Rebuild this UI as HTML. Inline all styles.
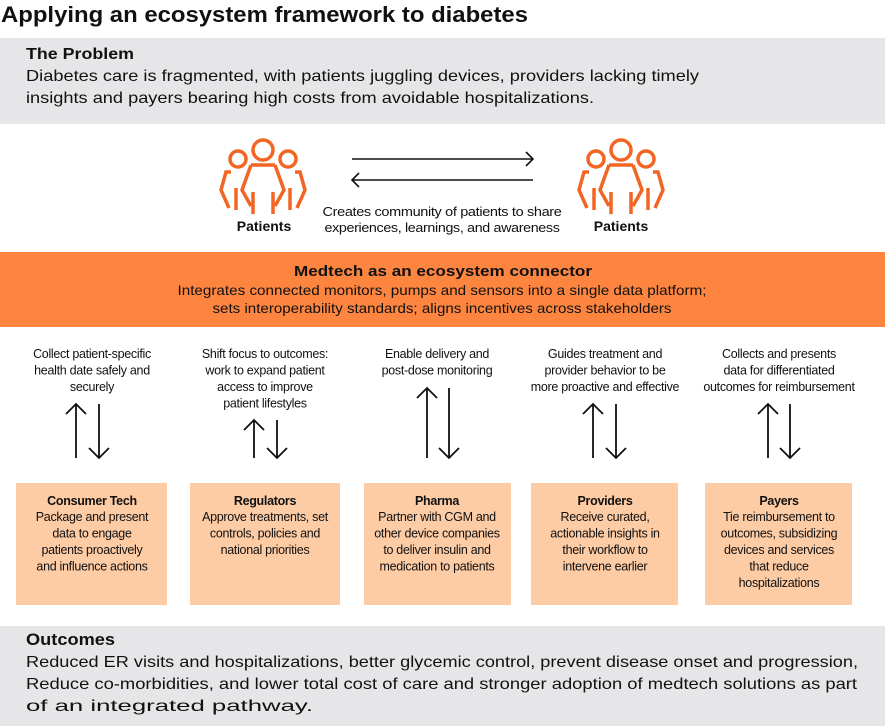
<!DOCTYPE html>
<html><head><meta charset="utf-8"><style>
html,body{margin:0;padding:0;background:#fff}
svg{display:block}
text{font-family:"Liberation Sans",Arial,sans-serif;fill:#111}
.s{font-size:12.5px;letter-spacing:-0.3px}
.b{font-weight:bold}
</style></head><body>
<svg width="885" height="726" viewBox="0 0 885 726" xmlns="http://www.w3.org/2000/svg">
<defs>
<g id="ppl" fill="none" stroke="#f26522" stroke-width="3.5" stroke-linejoin="miter">
<circle cx="0" cy="-52" r="10"/>
<circle cx="-25" cy="-43" r="8"/>
<circle cx="25" cy="-43" r="8"/>
<path d="M-12,-37 L-21,-12 L-12,4 M-10,-10 L-10,12 M12,-37 L21,-12 L12,4 M10,-10 L10,12 M-12,-37 L12,-37"/>
<path d="M-32,-30 L-37,-30 L-42,-12 L-34,6 M-27,-14 L-27,8"/>
<path d="M32,-30 L37,-30 L42,-12 L34,6 M27,-14 L27,8"/>
</g>
</defs>
<text x="1" y="22" font-size="22" textLength="527" lengthAdjust="spacingAndGlyphs" style="font-weight:bold;letter-spacing:0">Applying an ecosystem framework to diabetes</text>
<rect x="0" y="38" width="885" height="86" fill="#e6e6e8"/>
<text x="26" y="59" font-size="16" class="b" textLength="108" lengthAdjust="spacingAndGlyphs">The Problem</text>
<text x="26" y="81" font-size="16" textLength="673" lengthAdjust="spacingAndGlyphs">Diabetes care is fragmented, with patients juggling devices, providers lacking timely</text>
<text x="26" y="103" font-size="16" textLength="568" lengthAdjust="spacingAndGlyphs">insights and payers bearing high costs from avoidable hospitalizations.</text>

<use href="#ppl" x="263" y="202"/>
<use href="#ppl" x="621" y="202"/>
<text x="264" y="231" font-size="14" class="b" text-anchor="middle">Patients</text>
<text x="621" y="231" font-size="14" class="b" text-anchor="middle">Patients</text>
<g stroke="#111" stroke-width="1.6" fill="none">
<path d="M352,159 L533,159 M526,152 L533,159 L526,166"/>
<path d="M352,180 L533,180 M359,173 L352,180 L359,187"/>
</g>
<text x="442" y="216" class="s" text-anchor="middle" textLength="239" lengthAdjust="spacingAndGlyphs">Creates community of patients to share</text>
<text x="442" y="232" class="s" text-anchor="middle" textLength="235" lengthAdjust="spacingAndGlyphs">experiences, learnings, and awareness</text>

<rect x="0" y="252" width="885" height="75" fill="#fd8540"/>
<text x="443" y="276" font-size="15" class="b" text-anchor="middle" textLength="298" lengthAdjust="spacingAndGlyphs">Medtech as an ecosystem connector</text>
<text x="442" y="295" font-size="14" text-anchor="middle" textLength="529" lengthAdjust="spacingAndGlyphs">Integrates connected monitors, pumps and sensors into a single data platform;</text>
<text x="442" y="313" font-size="14" text-anchor="middle" textLength="459" lengthAdjust="spacingAndGlyphs">sets interoperability standards; aligns incentives across stakeholders</text>

<g text-anchor="middle">
<text x="92" y="358" class="s">Collect patient-specific</text>
<text x="92" y="374.5" class="s">health date safely and</text>
<text x="92" y="391" class="s">securely</text>
<text x="265" y="358" class="s">Shift focus to outcomes:</text>
<text x="265" y="374.5" class="s">work to expand patient</text>
<text x="265" y="391" class="s">access to improve</text>
<text x="265" y="407.5" class="s">patient lifestyles</text>
<text x="437" y="358" class="s">Enable delivery and</text>
<text x="437" y="374.5" class="s">post-dose monitoring</text>
<text x="605" y="358" class="s">Guides treatment and</text>
<text x="605" y="374.5" class="s">provider behavior to be</text>
<text x="605" y="391" class="s">more proactive and effective</text>
<text x="779" y="358" class="s">Collects and presents</text>
<text x="779" y="374.5" class="s">data for differentiated</text>
<text x="779" y="391" class="s">outcomes for reimbursement</text>
</g>

<g stroke="#111" stroke-width="1.8" fill="none">
<path d="M76,458 L76,404 M66,414 L76,404 L86,414 M99,404 L99,458 M89,448 L99,458 L109,448"/>
<path d="M254,458 L254,420 M244,430 L254,420 L264,430 M277,420 L277,458 M267,448 L277,458 L287,448"/>
<path d="M427,458 L427,388 M417,398 L427,388 L437,398 M449,388 L449,458 M439,448 L449,458 L459,448"/>
<path d="M593,458 L593,404 M583,414 L593,404 L603,414 M616,404 L616,458 M606,448 L616,458 L626,448"/>
<path d="M768,458 L768,404 M758,414 L768,404 L778,414 M790,404 L790,458 M780,448 L790,458 L800,448"/>
</g>

<g fill="#fdcba4">
<rect x="16" y="483" width="151" height="122"/>
<rect x="190" y="483" width="150" height="122"/>
<rect x="364" y="483" width="147" height="122"/>
<rect x="531" y="483" width="147" height="122"/>
<rect x="705" y="483" width="147" height="122"/>
</g>
<g text-anchor="middle">
<text x="92" y="505" class="s b">Consumer Tech</text>
<text x="92" y="521" class="s">Package and present</text>
<text x="92" y="537.5" class="s">data to engage</text>
<text x="92" y="554" class="s">patients proactively</text>
<text x="92" y="570.5" class="s">and influence actions</text>
<text x="265" y="505" class="s b">Regulators</text>
<text x="265" y="521" class="s">Approve treatments, set</text>
<text x="265" y="537.5" class="s">controls, policies and</text>
<text x="265" y="554" class="s">national priorities</text>
<text x="437" y="505" class="s b">Pharma</text>
<text x="437" y="521" class="s">Partner with CGM and</text>
<text x="437" y="537.5" class="s">other device companies</text>
<text x="437" y="554" class="s">to deliver insulin and</text>
<text x="437" y="570.5" class="s">medication to patients</text>
<text x="605" y="505" class="s b">Providers</text>
<text x="605" y="521" class="s">Receive curated,</text>
<text x="605" y="537.5" class="s">actionable insights in</text>
<text x="605" y="554" class="s">their workflow to</text>
<text x="605" y="570.5" class="s">intervene earlier</text>
<text x="779" y="505" class="s b">Payers</text>
<text x="779" y="521" class="s">Tie reimbursement to</text>
<text x="779" y="537.5" class="s">outcomes, subsidizing</text>
<text x="779" y="554" class="s">devices and services</text>
<text x="779" y="570.5" class="s">that reduce</text>
<text x="779" y="587" class="s">hospitalizations</text>
</g>

<rect x="0" y="626" width="885" height="100" fill="#e6e6e8"/>
<text x="26" y="645" font-size="17" class="b" textLength="89" lengthAdjust="spacingAndGlyphs">Outcomes</text>
<text x="26" y="667" font-size="16" textLength="832" lengthAdjust="spacingAndGlyphs">Reduced ER visits and hospitalizations, better glycemic control, prevent disease onset and progression,</text>
<text x="26" y="689" font-size="16" textLength="831" lengthAdjust="spacingAndGlyphs">Reduce co-morbidities, and lower total cost of care and stronger adoption of medtech solutions as part</text>
<text x="26" y="711" font-size="16" textLength="287" lengthAdjust="spacingAndGlyphs">of an integrated pathway.</text>
</svg>
</body></html>
